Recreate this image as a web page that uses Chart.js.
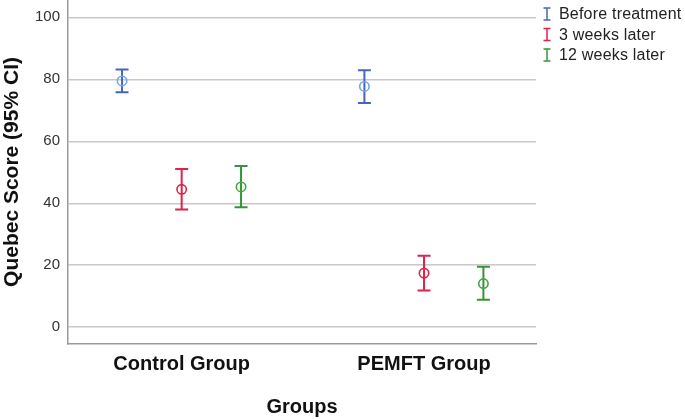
<!DOCTYPE html>
<html>
<head>
<meta charset="utf-8">
<script src="https://cdn.jsdelivr.net/npm/chart.js@4/dist/chart.umd.min.js"></script>
<style>
  html, body { margin: 0; padding: 0; background: #fff; }
  #wrap { width: 685px; height: 419px; position: relative; }
</style>
</head>
<body>
<div id="wrap"><canvas id="chart"></canvas></div>
<script>
// Data
const groups = ["Control Group", "PEMFT Group"];
const seriesLabels = ["Before treatment", "3 weeks later", "12 weeks later"];
const meanBefore = [79.5, 77.7];
const meanWeek3 = [44.5, 17.5];
const meanWeek12 = [45.3, 14.1];
const lowBefore = [75.8, 72.4];
const lowWeek3 = [38.0, 11.9];
const lowWeek12 = [38.7, 8.9];
const highBefore = [83.2, 82.9];
const highWeek3 = [51.1, 23.1];
const highWeek12 = [52.0, 19.5];
const yTicks = [0, 20, 40, 60, 80, 100];

// Styles
const barColors = ["#4766b9", "#e0214b", "#379337"];
const dotColors = ["#74a4ec", "#e0214b", "#46a246"];
const dodge = [-0.246, 0, 0.245];
const FONT = "'Liberation Sans', Arial, sans-serif";

const means = [meanBefore, meanWeek3, meanWeek12];
const lows = [lowBefore, lowWeek3, lowWeek12];
const highs = [highBefore, highWeek3, highWeek12];

const datasets = seriesLabels.map((label, s) => ({
  label: label,
  data: groups.map((g, i) => ({ x: i + 1 + dodge[s], y: means[s][i], lo: lows[s][i], hi: highs[s][i] })),
  borderColor: dotColors[s],
  backgroundColor: "rgba(0,0,0,0)",
  barColor: barColors[s],
  pointRadius: 4.7,
  pointBorderWidth: 1.6,
  pointHoverRadius: 4.7,
  showLine: false,
}));

// error bars, drawn under the circles
const errorBars = {
  id: "errorBars",
  beforeDatasetsDraw(chart) {
    const ctx = chart.ctx;
    const xs = chart.scales.x, ys = chart.scales.y;
    ctx.save();
    chart.data.datasets.forEach((ds) => {
      ctx.strokeStyle = ds.barColor;
      ctx.lineWidth = 2;
      ds.data.forEach((p) => {
        const x = xs.getPixelForValue(p.x);
        const yTop = ys.getPixelForValue(p.hi);
        const yBot = ys.getPixelForValue(p.lo);
        const half = 6.5;
        ctx.beginPath();
        ctx.moveTo(x, yTop); ctx.lineTo(x, yBot);
        ctx.moveTo(x - half, yTop); ctx.lineTo(x + half, yTop);
        ctx.moveTo(x - half, yBot); ctx.lineTo(x + half, yBot);
        ctx.stroke();
      });
    });
    ctx.restore();
  },
};

// legend on the right with the "I" symbols
const sideLegend = {
  id: "sideLegend",
  afterDraw(chart) {
    const ctx = chart.ctx;
    const x0 = 547, y0 = 14, rowH = 20.5;
    ctx.save();
    ctx.font = "16px " + FONT;
    ctx.letterSpacing = "0.2px";
    ctx.textBaseline = "middle";
    chart.data.datasets.forEach((ds, i) => {
      const y = y0 + i * rowH;
      ctx.strokeStyle = ds.barColor;
      ctx.lineWidth = 1.5;
      ctx.beginPath();
      ctx.moveTo(x0, y - 6); ctx.lineTo(x0, y + 6);
      ctx.moveTo(x0 - 3.5, y - 6); ctx.lineTo(x0 + 3.5, y - 6);
      ctx.moveTo(x0 - 3.5, y + 6); ctx.lineTo(x0 + 3.5, y + 6);
      ctx.stroke();
      ctx.fillStyle = "#222";
      ctx.fillText(ds.label, 559, y + 1);
    });
    ctx.restore();
  },
};

new Chart(document.getElementById("chart"), {
  type: "scatter",
  data: { datasets: datasets },
  plugins: [errorBars, sideLegend],
  options: {
    responsive: true,
    maintainAspectRatio: false,
    animation: false,
    layout: { autoPadding: false, padding: { top: 0, right: 149, bottom: 0, left: 0 } },
    plugins: {
      legend: { display: false },
      tooltip: { enabled: false },
    },
    scales: {
      x: {
        type: "linear",
        min: 0.531,
        max: 2.462,
        afterBuildTicks: (scale) => {
          scale.ticks = groups.map((g, i) => ({ value: i + 1 }));
        },
        afterFit: (scale) => {
          scale.height = 75;
          scale.paddingLeft = 0;
          scale.paddingRight = 0;
        },
        ticks: {
          callback: (v) => groups[Math.round(v) - 1],
          font: { family: FONT, size: 20, weight: "bold" },
          color: "#111",
          padding: 8,
          maxRotation: 0,
        },
        grid: { display: false, drawTicks: false },
        border: { display: true, color: "#9a9a9a", width: 1.5 },
        title: {
          display: true,
          text: "Groups",
          font: { family: FONT, size: 20, weight: "bold" },
          color: "#111",
          padding: { top: 0, bottom: 0 },
        },
      },
      y: {
        min: -5.4,
        max: 105.6,
        afterBuildTicks: (scale) => {
          scale.ticks = yTicks.map((v) => ({ value: v }));
        },
        afterFit: (scale) => {
          scale.width = 68;
          scale.paddingTop = 0;
          scale.paddingBottom = 0;
        },
        ticks: {
          font: { family: FONT, size: 15 },
          color: "#333",
          padding: 8,
        },
        grid: { color: "#c8c8c8", lineWidth: 1.6, drawTicks: false },
        border: { display: true, color: "#9a9a9a", width: 1.5 },
        title: {
          display: true,
          text: "Quebec Score (95% CI)",
          font: { family: FONT, size: 21, weight: "bold" },
          color: "#111",
          padding: { top: 0, bottom: 0 },
        },
      },
    },
  },
});
</script>
</body>
</html>
